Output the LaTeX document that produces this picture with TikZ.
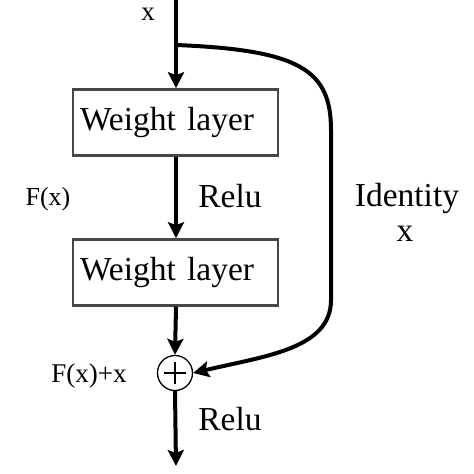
\documentclass[tikz,border=0pt]{standalone}
\usepackage{fontspec}
\setmainfont{Liberation Serif}
\usetikzlibrary{arrows.meta}
\begin{document}
\begin{tikzpicture}[x=1pt, y=1pt,
    layer/.style={draw=black!72, line width=2.5pt, minimum height=66pt,
        text width=191pt, inner xsep=7pt, align=left, font=\fontsize{33.5}{36}\selectfont},
    flow/.style={line width=4pt, -{Stealth[length=16pt, width=16pt, inset=3pt]}},
    big/.style={font=\fontsize{33.5}{36}\selectfont, anchor=base},
    small/.style={font=\fontsize{27}{30}\selectfont, anchor=base}]
            \useasboundingbox (0, 0) rectangle (474, 474);

            \coordinate (in) at (176, 474);
            \coordinate (branch) at (176, 429);
            \coordinate (out) at (176, 8);

            \node[layer] (w1) at (175.5, 351.5) {Weight layer};
            \node[layer] (w2) at (175.5, 201.5) {Weight layer};
            \node[draw, circle, line width=1.3pt, minimum size=35pt, inner sep=0pt] (sum) at (175, 101) {};
            \draw[line width=1.2pt] (sum.center) +(-11, 0) -- +(11, 0);
            \draw[line width=1.2pt] (sum.center) +(0, -11) -- +(0, 11);

            \node[small] (xin) at (148, 453) {x};
            \node[small, font=\fontsize{26}{29}\selectfont] (fx) at (48, 268) {F(x)};
            \node[big] (relu1) at (230, 266) {Relu};
            \node[big] (ident) at (407, 267) {Identity};
            \node[big] (identx) at (405, 232) {x};
            \node[small] (fxx) at (89, 91) {F(x)+x};
            \node[big] (relu2) at (230, 43) {Relu};

            \draw[line width=4pt] (in) -- (branch);
            \draw[flow] (branch) -- (w1.north -| branch);
            \draw[flow] (w1.south -| branch) -- (w2.north -| branch);
            \draw[flow] (w2.south -| branch) -- (sum.north);
            \draw[flow] (sum.south) -- (out);
            \draw[flow] (branch) .. controls (300, 424) and (331, 404) .. (331, 344)
                -- (331, 174) .. controls (331, 125) and (265, 118) .. (sum.east);
        \end{tikzpicture}
\end{document}
